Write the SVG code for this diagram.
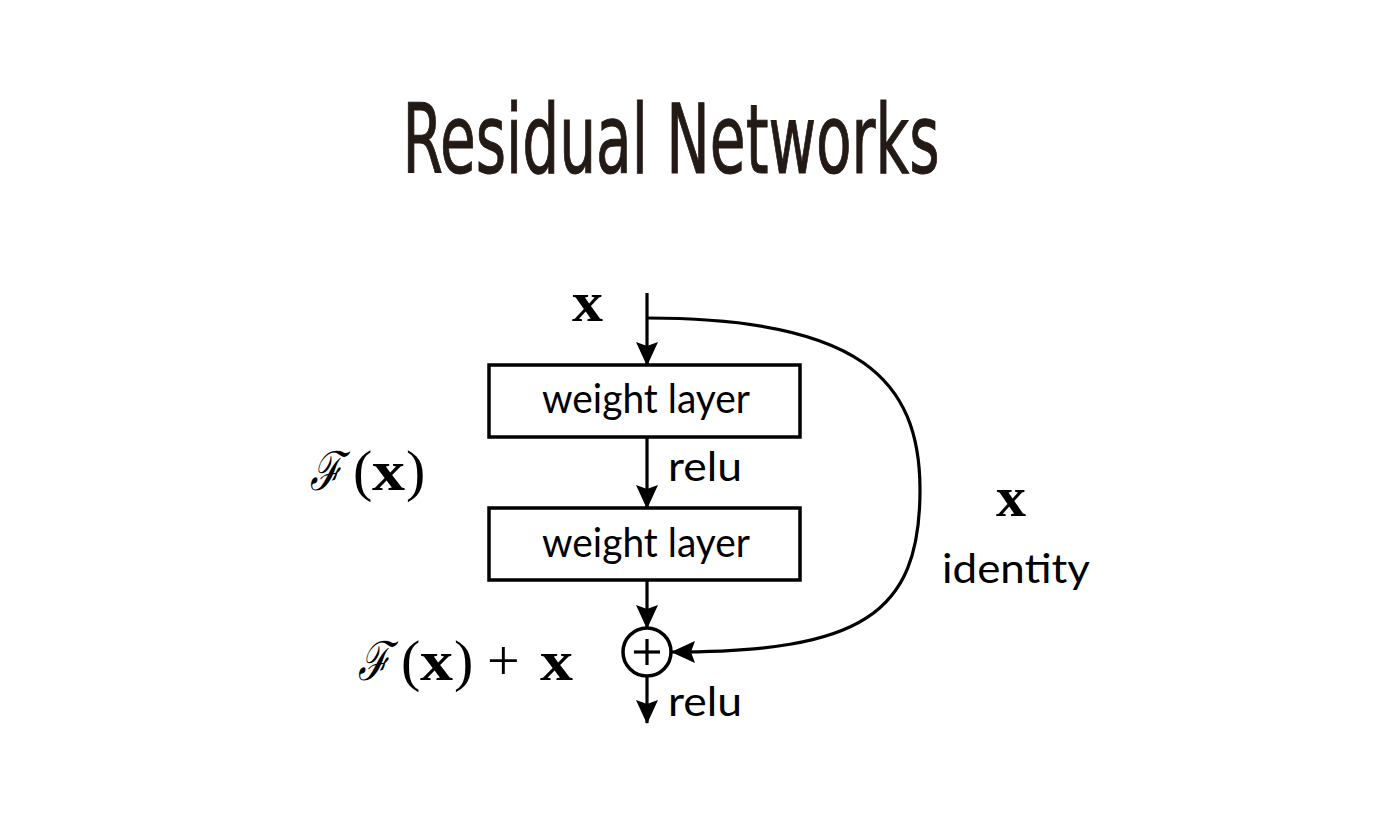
<svg xmlns="http://www.w3.org/2000/svg" width="1400" height="840" viewBox="0 0 1400 840">
<style>
.ln{fill:none;stroke:#000;stroke-width:3.2}
.box{fill:#fff;stroke:#000;stroke-width:3.5}
.lbl{font-family:Lato,"Open Sans","DejaVu Sans",sans-serif;font-size:40px;fill:#000}
.mx{font-family:"Liberation Serif","DejaVu Serif",serif;font-weight:bold;font-size:56px;fill:#000}
.mf{font-family:"DejaVu Serif","Liberation Serif",serif;font-style:italic;font-size:54px;fill:#000}
.mr{font-family:"Liberation Serif","DejaVu Serif",serif;font-size:58px;fill:#000}
</style>
<defs>
<marker id="ah" markerUnits="userSpaceOnUse" markerWidth="24" markerHeight="22" viewBox="0 0 24 22" refX="23" refY="11" orient="auto">
<path d="M0,0 L24,11 L0,22 L4,11 Z" fill="#000"/>
</marker>
</defs>
<rect width="1400" height="840" fill="#fff"/>
<text x="671" y="173" text-anchor="middle" font-family="DejaVu Sans" font-stretch="condensed" font-size="96" fill="#231a15" stroke="#231a15" stroke-width="1" textLength="537" lengthAdjust="spacingAndGlyphs">Residual Networks</text>
<g id="connectors">
<line class="ln" x1="647" y1="293" x2="647" y2="365" marker-end="url(#ah)"/>
<line class="ln" x1="647" y1="437" x2="647" y2="508" marker-end="url(#ah)"/>
<line class="ln" x1="647" y1="580" x2="647" y2="628" marker-end="url(#ah)"/>
<line class="ln" x1="647" y1="676" x2="647" y2="723" marker-end="url(#ah)"/>
<path class="ln" d="M647,318 C860,318 920,380 920,490 C920,615 860,652 672,652" marker-end="url(#ah)"/>
</g>
<g id="layer1">
<rect class="box" x="489" y="365" width="311" height="72"/>
<text class="lbl" x="542" y="413" textLength="208" lengthAdjust="spacingAndGlyphs">weight layer</text>
</g>
<g id="layer2">
<rect class="box" x="489" y="508" width="311" height="72"/>
<text class="lbl" x="542" y="557" textLength="208" lengthAdjust="spacingAndGlyphs">weight layer</text>
</g>
<g id="sum">
<circle cx="647" cy="652" r="24" fill="#fff" stroke="#000" stroke-width="3.5"/>
<line class="ln" x1="634" y1="652" x2="660" y2="652"/>
<line class="ln" x1="647" y1="639" x2="647" y2="665"/>
</g>
<g id="labels">
<text class="mx" x="572" y="321" textLength="31" lengthAdjust="spacingAndGlyphs">x</text>
<text class="lbl" x="668" y="481" textLength="74" lengthAdjust="spacingAndGlyphs">relu</text>
<text class="lbl" x="668" y="716" textLength="74" lengthAdjust="spacingAndGlyphs">relu</text>
<text class="mx" x="996" y="516" textLength="30" lengthAdjust="spacingAndGlyphs">x</text>
<text class="lbl" x="942" y="583" textLength="148" lengthAdjust="spacingAndGlyphs">identity</text>
<g id="fx">
<text class="mf" x="310" y="490" textLength="32" lengthAdjust="spacingAndGlyphs">ℱ</text>
<text class="mr" x="353" y="490">(</text>
<text class="mx" x="372" y="490" textLength="33" lengthAdjust="spacingAndGlyphs">x</text>
<text class="mr" x="406" y="490">)</text>
</g>
<g id="fxx">
<text class="mf" x="358" y="680" textLength="32" lengthAdjust="spacingAndGlyphs">ℱ</text>
<text class="mr" x="401" y="680">(</text>
<text class="mx" x="420" y="680" textLength="33" lengthAdjust="spacingAndGlyphs">x</text>
<text class="mr" x="454" y="680">)</text>
<text class="mr" x="487" y="680" font-size="64">+</text>
<text class="mx" x="540" y="680" textLength="33" lengthAdjust="spacingAndGlyphs">x</text>
</g>
</g>
</svg>
